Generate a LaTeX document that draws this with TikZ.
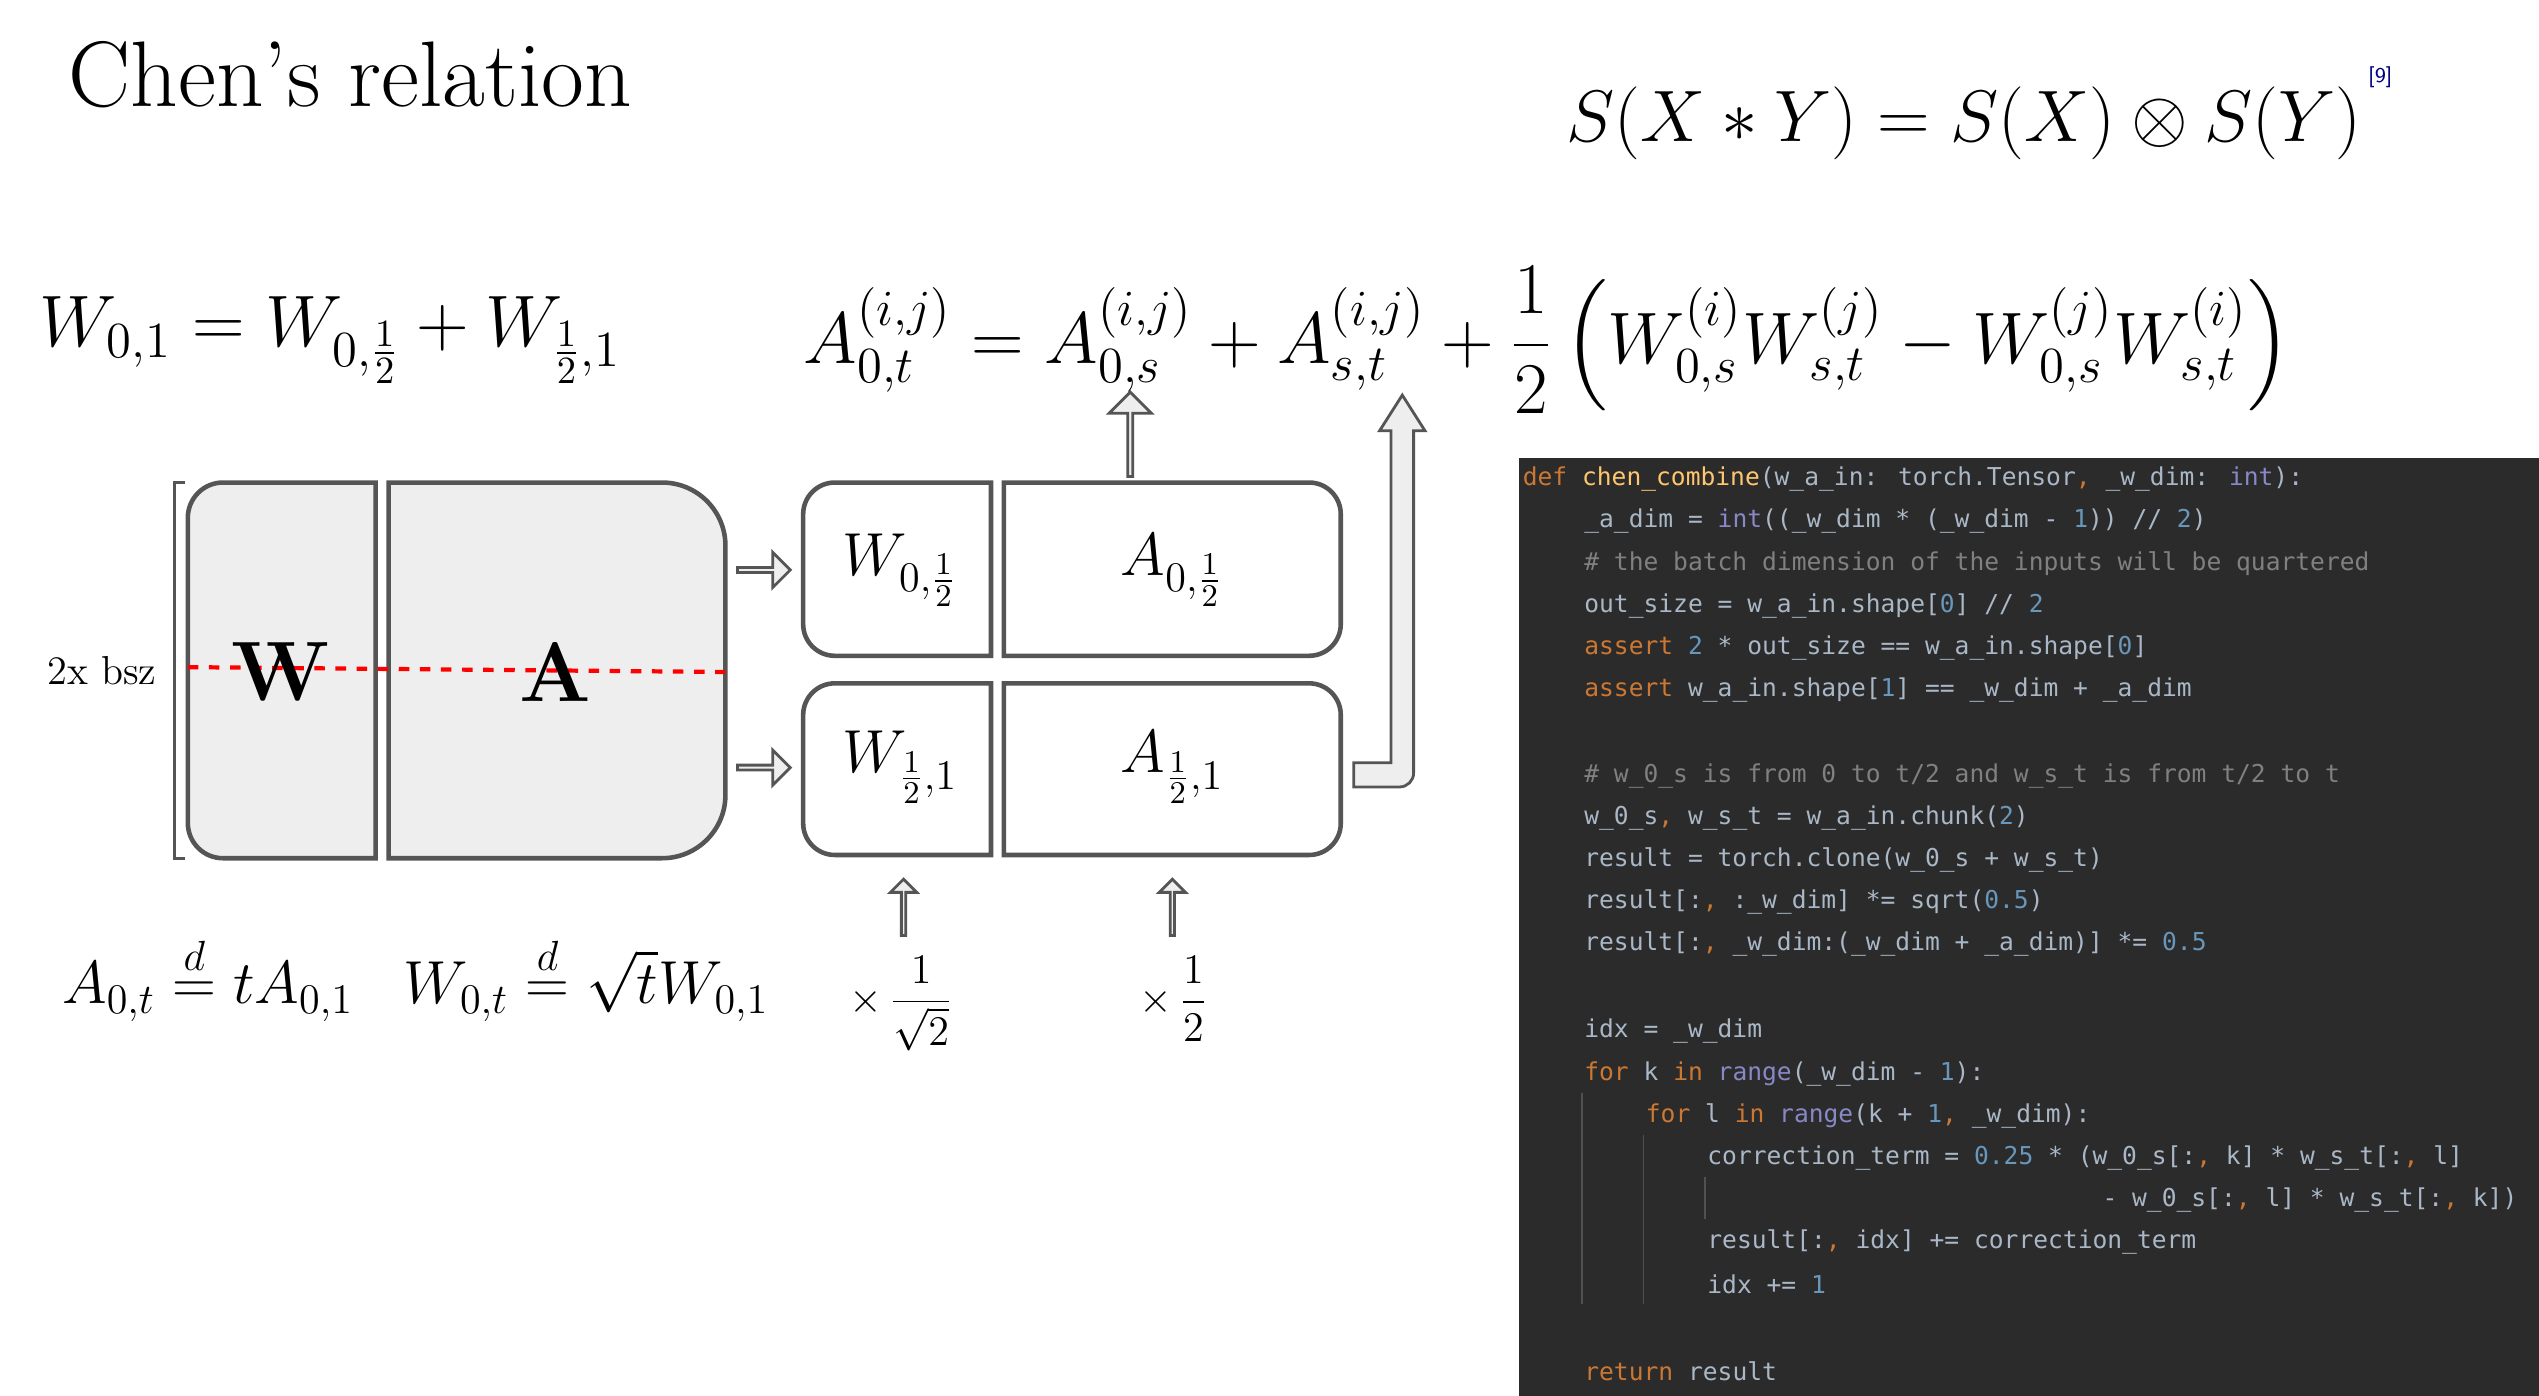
\documentclass[tikz,border=0pt]{standalone}
\usepackage{amsmath}
\usepackage{fontspec}
\usetikzlibrary{shapes.arrows}
\newfontfamily\codefont{DejaVu Sans Mono}[WordSpace={1,0,0}]
\definecolor{codebg}{HTML}{2B2B2B}
\definecolor{ckw}{HTML}{CC7832}
\definecolor{cfn}{HTML}{FFC66D}
\definecolor{ctx}{HTML}{A9B7C6}
\definecolor{cnumc}{HTML}{6897BB}
\definecolor{ccom}{HTML}{808080}
\definecolor{cbi}{HTML}{8888C6}
\definecolor{boxfill}{HTML}{EEEEEE}
\definecolor{boxline}{HTML}{555555}
\newcommand{\kw}[1]{\textcolor{ckw}{#1}}
\newcommand{\fnm}[1]{\textcolor{cfn}{#1}}
\newcommand{\cnum}[1]{\textcolor{cnumc}{#1}}
\newcommand{\cmt}[1]{\textcolor{ccom}{#1}}
\newcommand{\bi}[1]{\textcolor{cbi}{#1}}
\newcommand{\cm}{\textcolor{ckw}{,}}
\begin{document}
\begin{tikzpicture}[x=0.01619cm,y=-0.01619cm,
  boxst/.style={draw=boxline,line width=1.3pt},
  harr/.style={single arrow,draw=boxline,fill=boxfill,line width=0.8pt,inner sep=0pt,single arrow head indent=0pt},
  codeline/.style={anchor=west,inner sep=0pt,text=ctx,font=\codefont\fontsize{7pt}{8pt}\selectfont},
  lbl/.style={inner sep=0pt,font=\fontsize{18pt}{22pt}\selectfont}]
\useasboundingbox (0,0) rectangle (1568,862);
\fill[white] (0,0) rectangle (1568,862);
% title
\node[anchor=west,inner sep=0pt,font=\fontsize{26.5pt}{30pt}\selectfont] (title) at (42,46) {Chen’s relation};
\node[inner sep=0pt,font=\fontsize{22pt}{26pt}\selectfont] (seq) at (1213,76) {$S(X*Y)=S(X)\otimes S(Y)$};
\node[inner sep=0pt,font=\fontsize{6pt}{7pt}\selectfont\sffamily,text=blue!50!black] (ref) at (1470,48) {[9]};
% equations
\node[anchor=west,inner sep=0pt,font=\fontsize{22pt}{27pt}\selectfont] (eq1) at (24,210) {$W_{0,1}=W_{0,\frac12}+W_{\frac12,1}$};
\node[anchor=west,inner sep=0pt,font=\fontsize{22pt}{27pt}\selectfont] (eq2) at (496,210) {$A^{(i,j)}_{0,t}=A^{(i,j)}_{0,s}+A^{(i,j)}_{s,t}+\dfrac12\left(W^{(i)}_{0,s}W^{(j)}_{s,t}-W^{(j)}_{0,s}W^{(i)}_{s,t}\right)$};
% big gray box
\draw[boxst,fill=boxfill] (232,298) [rounded corners=10pt]-- (116,298) -- (116,530) [sharp corners]-- (232,530) -- cycle;
\draw[boxst,fill=boxfill] (240,298) [rounded corners=18pt]-- (448,298) -- (448,530) [sharp corners]-- (240,530) -- cycle;
\draw[boxline,line width=0.8pt] (114,298) -- (108,298) -- (108,530) -- (114,530);
\draw[red,dashed,line width=1.2pt] (116,412) -- (448,415);
\node[inner sep=0pt,font=\fontsize{24pt}{28pt}\selectfont\bfseries] (Wbig) at (173,415) {W};
\node[inner sep=0pt,font=\fontsize{24pt}{28pt}\selectfont\bfseries] (Abig) at (343,415) {A};
\node[anchor=east,inner sep=0pt,font=\fontsize{11.5pt}{14pt}\selectfont] (bsz) at (97,414) {2x bsz};
% right boxes
\draw[boxst] (612,298) [rounded corners=9pt]-- (496,298) -- (496,405) [sharp corners]-- (612,405) -- cycle;
\draw[boxst] (620,298) [rounded corners=9pt]-- (828,298) -- (828,405) [sharp corners]-- (620,405) -- cycle;
\draw[boxst] (612,422) [rounded corners=9pt]-- (496,422) -- (496,528) [sharp corners]-- (612,528) -- cycle;
\draw[boxst] (620,422) [rounded corners=9pt]-- (828,422) -- (828,528) [sharp corners]-- (620,528) -- cycle;
\node[lbl] (w1) at (556,352) {$W_{0,\frac12}$};
\node[lbl] (a1) at (724,352) {$A_{0,\frac12}$};
\node[lbl] (w2) at (556,474) {$W_{\frac12,1}$};
\node[lbl] (a2) at (724,474) {$A_{\frac12,1}$};
% hollow arrows
\node[harr,minimum height=15pt,minimum width=10pt,single arrow head extend=2.5pt] (r1) at (471,352) {};
\node[harr,minimum height=15pt,minimum width=10pt,single arrow head extend=2.5pt] (r2) at (471,474) {};
\node[harr,rotate=90,minimum height=16pt,minimum width=7.5pt,single arrow head extend=2pt] (u1) at (558,561) {};
\node[harr,rotate=90,minimum height=16pt,minimum width=7.5pt,single arrow head extend=2pt] (u2) at (724,561) {};
\node[harr,rotate=90,minimum height=24pt,minimum width=12pt,single arrow head extend=3pt] (u3) at (698,269) {};
\draw[boxline,fill=boxfill,line width=0.8pt] (836,471) -- (859,471) -- (859,266) -- (852,266) -- (866,244) -- (880,266) -- (873,266) [rounded corners=4pt]-- (873,486) [sharp corners]-- (836,486) -- cycle;
% bottom formulas
\node[anchor=west,inner sep=0pt,font=\fontsize{18pt}{22pt}\selectfont] (f1) at (38,604) {$A_{0,t}\overset{d}{=}tA_{0,1}$};
\node[anchor=west,inner sep=0pt,font=\fontsize{18pt}{22pt}\selectfont] (f2) at (249,604) {$W_{0,t}\overset{d}{=}\sqrt{t}W_{0,1}$};
\node[anchor=west,inner sep=0pt,font=\fontsize{12.5pt}{15pt}\selectfont] (m1) at (524,620) {$\times\,\dfrac{1}{\sqrt2}$};
\node[anchor=west,inner sep=0pt,font=\fontsize{12.5pt}{15pt}\selectfont] (m2) at (703,617) {$\times\,\dfrac{1}{2}$};
% code panel
\fill[codebg] (938,283) rectangle (1568,862);
\draw[gray!45!codebg,line width=0.5pt] (977,675) -- (977,805);
\draw[gray!45!codebg,line width=0.5pt] (1015,701) -- (1015,805);
\draw[gray!45!codebg,line width=0.5pt] (1053,727) -- (1053,753);
\node[codeline] (c1) at (940,296) {\kw{def} \fnm{chen\_combine}(w\_a\_in: torch.Tensor\cm{} \_w\_dim: \bi{int}):};
\node[codeline] (c2) at (978,322) {\_a\_dim = \bi{int}((\_w\_dim * (\_w\_dim - \cnum{1})) // \cnum{2})};
\node[codeline] (c3) at (978,348) {\cmt{\# the batch dimension of the inputs will be quartered}};
\node[codeline] (c4) at (978,374) {out\_size = w\_a\_in.shape[\cnum{0}] // \cnum{2}};
\node[codeline] (c5) at (978,400) {\kw{assert} \cnum{2} * out\_size == w\_a\_in.shape[\cnum{0}]};
\node[codeline] (c6) at (978,426) {\kw{assert} w\_a\_in.shape[\cnum{1}] == \_w\_dim + \_a\_dim};
\node[codeline] (c7) at (978,479) {\cmt{\# w\_0\_s is from 0 to t/2 and w\_s\_t is from t/2 to t}};
\node[codeline] (c8) at (978,505) {w\_0\_s\cm{} w\_s\_t = w\_a\_in.chunk(\cnum{2})};
\node[codeline] (c9) at (978,531) {result = torch.clone(w\_0\_s + w\_s\_t)};
\node[codeline] (c10) at (978,557) {result[:\cm{} :\_w\_dim] *= sqrt(\cnum{0.5})};
\node[codeline] (c11) at (978,583) {result[:\cm{} \_w\_dim:(\_w\_dim + \_a\_dim)] *= \cnum{0.5}};
\node[codeline] (c12) at (978,637) {idx = \_w\_dim};
\node[codeline] (c13) at (978,663) {\kw{for} k \kw{in} \bi{range}(\_w\_dim - \cnum{1}):};
\node[codeline] (c14) at (1016,689) {\kw{for} l \kw{in} \bi{range}(k + \cnum{1}\cm{} \_w\_dim):};
\node[codeline] (c15) at (1054,715) {correction\_term = \cnum{0.25} * (w\_0\_s[:\cm{} k] * w\_s\_t[:\cm{} l]};
\node[codeline] (c16) at (1298,741) {- w\_0\_s[:\cm{} l] * w\_s\_t[:\cm{} k])};
\node[codeline] (c17) at (1054,767) {result[:\cm{} idx] += correction\_term};
\node[codeline] (c18) at (1054,793) {idx += \cnum{1}};
\node[codeline] (c19) at (978,847) {\kw{return} result};
\end{tikzpicture}
\end{document}
